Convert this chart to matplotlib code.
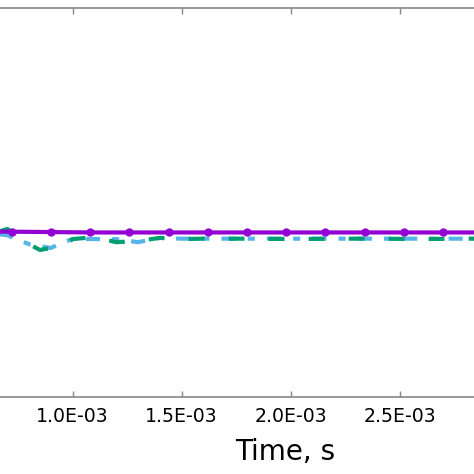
import numpy as np
import matplotlib
matplotlib.use('Agg')
import matplotlib.pyplot as plt
from matplotlib.ticker import FuncFormatter

# time in seconds, values in arbitrary (normalised) units
t_fine = np.array([0.60, 0.65, 0.70, 0.75, 0.80, 0.85, 0.90, 0.95, 1.00, 1.10,
                   1.20, 1.30, 1.40, 1.50, 1.60, 1.80, 2.00, 2.20, 2.40, 2.60,
                   2.80, 3.00]) * 1e-3
green = [0.419, 0.423, 0.432, 0.414, 0.393, 0.378, 0.383, 0.386, 0.406, 0.411,
         0.398, 0.401, 0.409, 0.406, 0.407, 0.407, 0.406, 0.407, 0.407, 0.406,
         0.407, 0.407]
blue = [0.414, 0.419, 0.416, 0.404, 0.393, 0.388, 0.383, 0.396, 0.406, 0.406,
        0.406, 0.398, 0.409, 0.407, 0.407, 0.407, 0.407, 0.407, 0.407, 0.407,
        0.407, 0.407]

t_purple = np.array([0.54, 0.72, 0.90, 1.08, 1.26, 1.44, 1.62, 1.80, 1.98,
                     2.16, 2.34, 2.52, 2.70, 2.88, 3.06]) * 1e-3
purple = [0.425, 0.425, 0.424, 0.423, 0.423, 0.423, 0.423, 0.423, 0.423,
          0.423, 0.423, 0.423, 0.423, 0.423, 0.423]

fig = plt.figure(figsize=(4.74, 4.74), dpi=100)
# the visible picture is a crop of a wider axes
ax = fig.add_axes([-36.4 / 474, 77 / 474, 654 / 474, 389 / 474])

ax.plot(t_fine, blue, color='#56b4e9', lw=3, ls='-.', dashes=(3.4, 2.9, 1.7, 2.9))
ax.plot(t_fine, green, color='#009e73', lw=3, ls='--', dashes=(3.8, 5.8))
ax.plot(t_purple, purple, color='#9400d3', lw=3, marker='o', ms=5)

ax.set_xlim(0.5e-3, 3.5e-3)
ax.set_ylim(0, 1)
ax.set_xticks(np.arange(0.5e-3, 3.51e-3, 0.5e-3))
ax.xaxis.set_major_formatter(FuncFormatter(lambda v, p: '%.1E' % v))
ax.set_yticks([])
ax.tick_params(axis='x', direction='in', top=True, length=4, width=1,
               color='#888888', labelsize=13.6, pad=7)
for s in ax.spines.values():
    s.set_color('#888888')
    s.set_linewidth(1.2)

ax.set_xlabel('Time, s', fontsize=20)
ax.xaxis.set_label_coords(0.491, -0.105)

fig.savefig('out.png', dpi=100)
